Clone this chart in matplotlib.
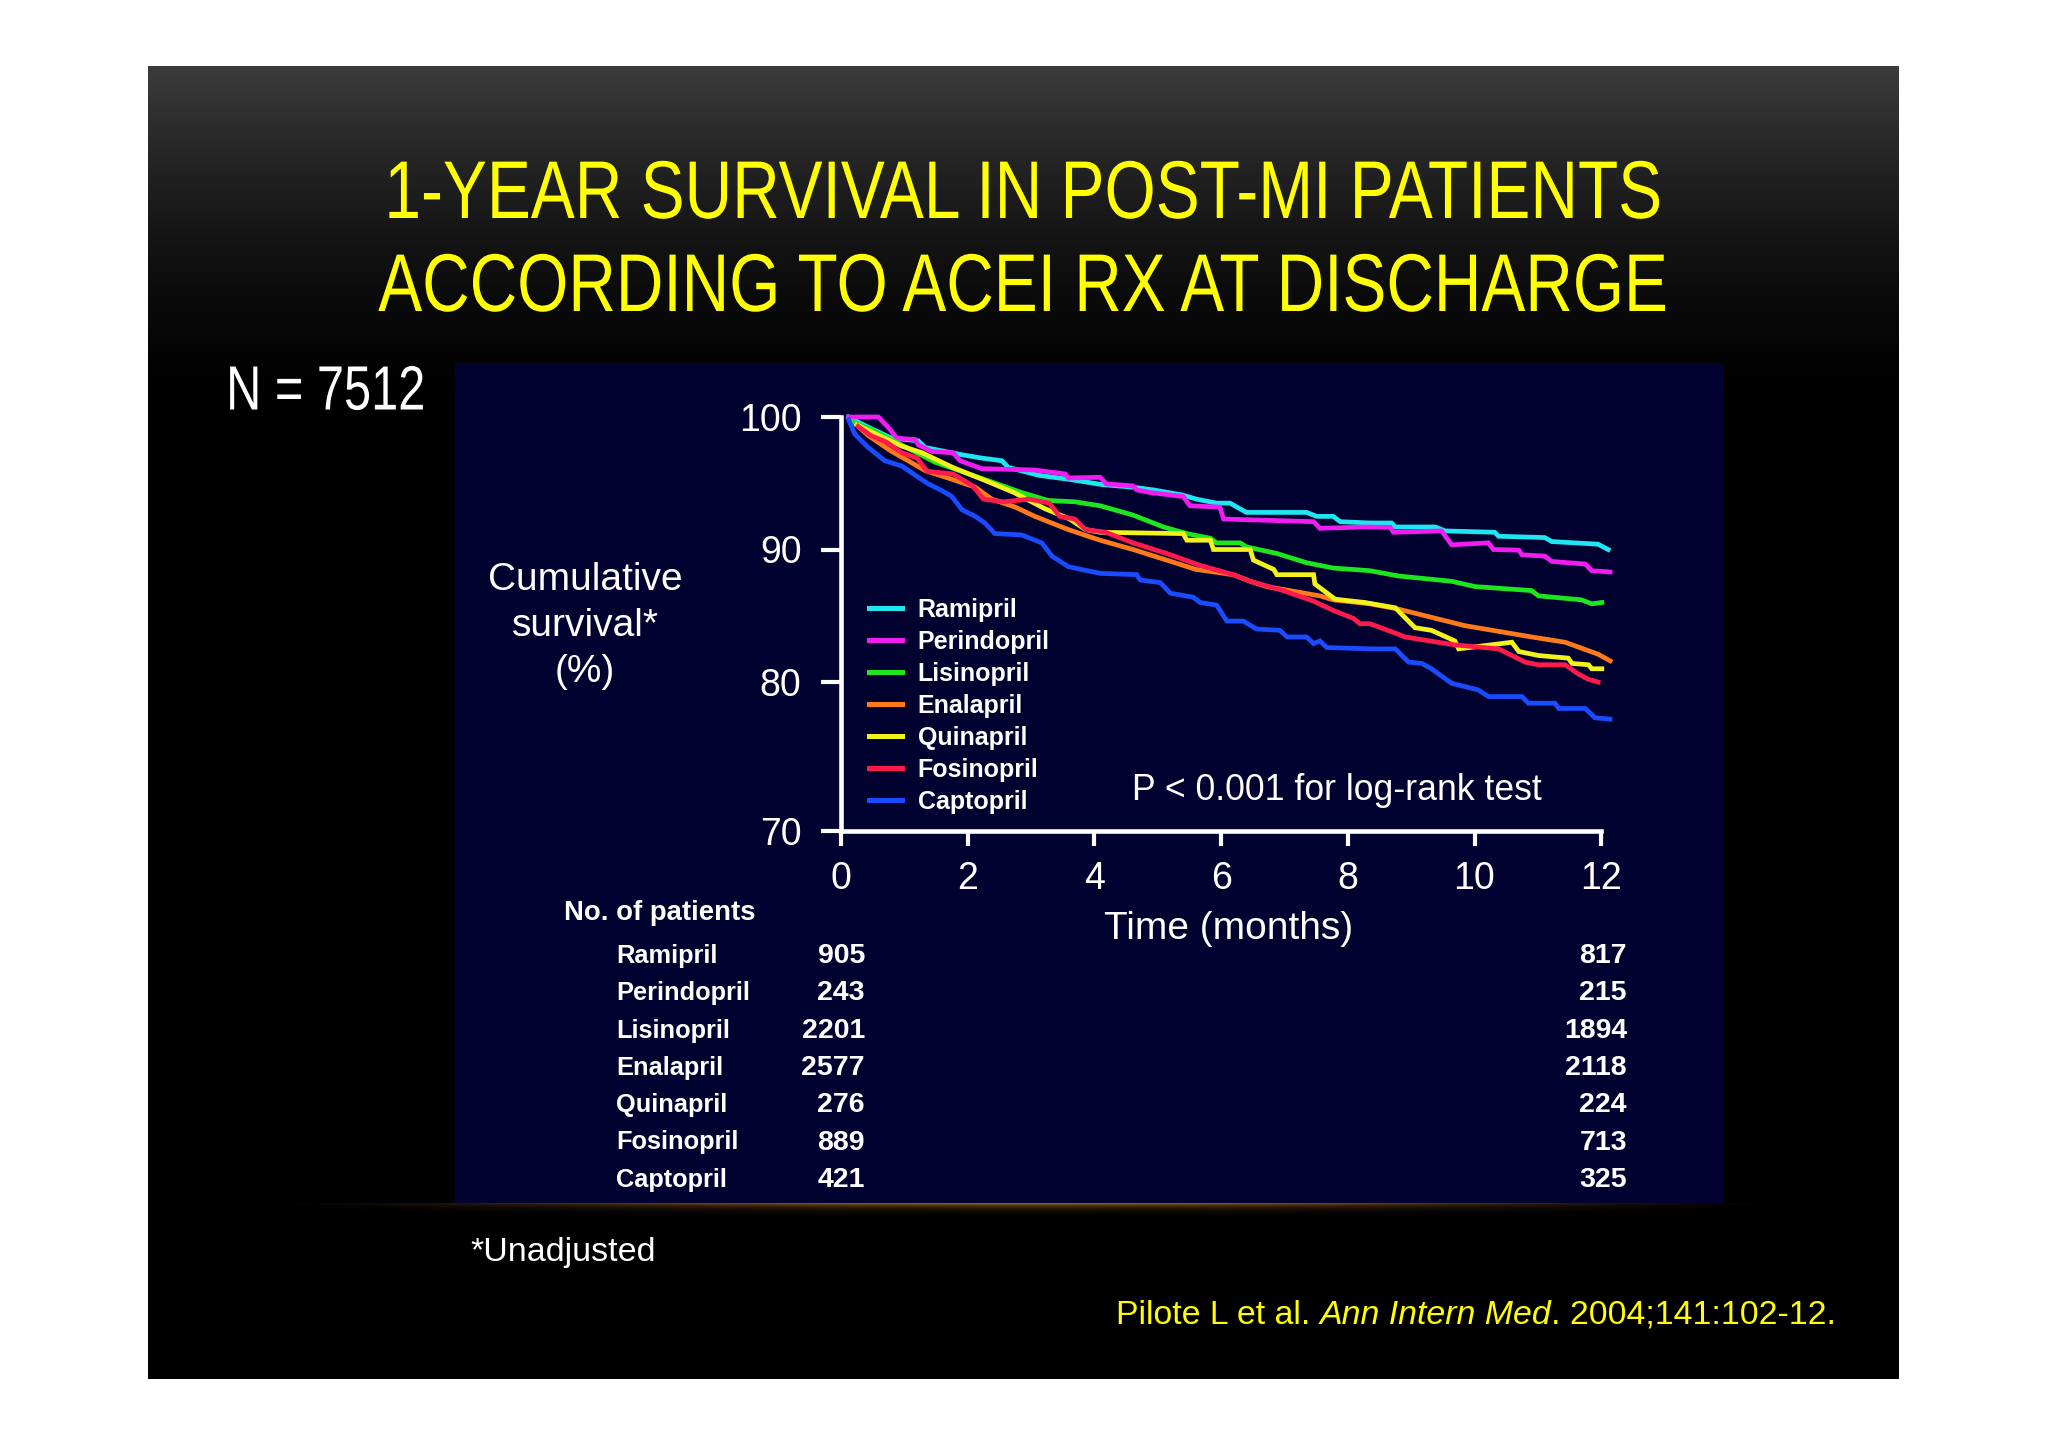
import numpy as np
import matplotlib
matplotlib.use("Agg")
import matplotlib.pyplot as plt
from matplotlib import font_manager, patheffects
from matplotlib.patches import Rectangle
from matplotlib.transforms import Affine2D

# ---------------- data ----------------
DRUGS = ["Ramipril", "Perindopril", "Lisinopril", "Enalapril", "Quinapril", "Fosinopril", "Captopril"]
N_START = [905, 243, 2201, 2577, 276, 889, 421]
N_END = [817, 215, 1894, 2118, 224, 713, 325]
X_TICKS = [0, 2, 4, 6, 8, 10, 12]
Y_TICK_LABELS = ["70", "80", "90", "100"]

T_RAMIPRIL = [0.12, 0.4, 0.80, 1.22, 1.33, 1.85, 2.22, 2.54, 2.64, 3.12, 3.59, 4.12, 4.61, 4.93, 5.40, 5.61, 5.93,
              6.14, 6.40, 7.35, 7.51, 7.77, 7.88, 8.35, 8.69, 8.75, 9.38, 9.54, 10.32, 10.38, 11.11, 11.22, 11.95, 12.11]
S_RAMIPRIL = [100.0, 99.3, 98.4, 98.2, 97.7, 97.2, 96.9, 96.7, 96.2, 95.6, 95.3, 94.9, 94.7, 94.5, 94.1, 93.8, 93.5,
              93.5, 92.8, 92.8, 92.5, 92.5, 92.1, 92.0, 92.0, 91.7, 91.7, 91.4, 91.3, 91.0, 90.9, 90.6, 90.4, 90.0]

T_PERINDOPRIL = [0.12, 0.59, 0.75, 0.88, 1.17, 1.22, 1.43, 1.77, 1.88, 2.22, 3.06, 3.54, 3.59, 4.09, 4.19, 4.61, 4.67,
                 4.88, 5.40, 5.51, 5.98, 6.04, 7.46, 7.56, 8.27, 8.67, 8.72, 9.48, 9.64, 10.22, 10.30, 10.70, 10.75,
                 11.11, 11.22, 11.75, 11.85, 12.14]
S_PERINDOPRIL = [100.0, 100.0, 99.2, 98.4, 98.3, 97.9, 97.4, 97.3, 96.7, 96.1, 96.0, 95.7, 95.4, 95.45, 94.95, 94.8,
                 94.5, 94.3, 94.0, 93.3, 93.2, 92.3, 92.1, 91.6, 91.7, 91.67, 91.3, 91.4, 90.35, 90.5, 90.0, 89.95,
                 89.6, 89.5, 89.1, 88.9, 88.4, 88.3]

T_LISINOPRIL = [0.15, 0.5, 0.83, 1.48, 2.17, 2.85, 3.27, 3.69, 4.09, 4.61, 5.09, 5.46, 5.83, 5.93, 6.30, 6.40, 6.88,
                7.35, 7.77, 8.35, 8.80, 9.64, 10.01, 10.90, 11.01, 11.69, 11.85, 12.01]
S_LISINOPRIL = [99.7, 99.0, 98.2, 96.6, 95.45, 94.3, 93.7, 93.6, 93.3, 92.6, 91.7, 91.2, 90.85, 90.5, 90.5, 90.2, 89.7,
                89.0, 88.6, 88.4, 88.0, 87.6, 87.2, 86.9, 86.5, 86.2, 85.9, 86.0]

T_ENALAPRIL = [0.27, 0.43, 0.80, 1.06, 1.33, 1.75, 2.12, 2.38, 2.75, 3.06, 3.59, 4.09, 4.61, 5.14, 5.60, 6.19, 6.46,
               6.72, 7.56, 7.77, 8.35, 8.80, 9.85, 10.90, 11.43, 11.95, 12.14]
S_ENALAPRIL = [99.3, 98.6, 97.4, 96.7, 95.95, 95.3, 94.7, 93.8, 93.2, 92.5, 91.5, 90.7, 90.0, 89.2, 88.5, 88.1, 87.6,
               87.2, 86.5, 86.2, 85.9, 85.5, 84.25, 83.4, 83.0, 82.1, 81.6]

T_QUINAPRIL = [0.25, 0.6, 0.96, 1.28, 1.76, 2.33, 2.73, 3.21, 3.61, 3.86, 4.09, 5.40, 5.46, 5.83, 5.88, 6.46, 6.51,
               6.83, 6.88, 7.46, 7.48, 7.80, 8.27, 8.75, 9.06, 9.32, 9.69, 9.75, 10.59, 10.70, 11.01, 11.48, 11.54,
               11.80, 11.85, 12.01]
S_QUINAPRIL = [99.4, 98.6, 97.8, 97.3, 96.2, 95.1, 94.3, 93.1, 92.3, 91.5, 91.3, 91.2, 90.7, 90.7, 90.0, 90.0, 89.2,
               88.5, 88.1, 88.1, 87.4, 86.25, 86.0, 85.6, 84.1, 83.9, 83.1, 82.5, 83.0, 82.3, 82.0, 81.8, 81.4,
               81.3, 81.0, 81.0]

T_FOSINOPRIL = [0.27, 0.47, 0.72, 0.96, 1.20, 1.36, 1.77, 2.08, 2.25, 2.57, 2.97, 3.29, 3.45, 3.69, 3.86, 4.18, 4.61,
                5.14, 5.67, 6.19, 6.46, 6.98, 7.46, 7.77, 8.09, 8.19, 8.35, 8.80, 8.90, 9.69, 10.38, 10.80, 11.01,
                11.43, 11.64, 11.80, 11.95]
S_FOSINOPRIL = [99.3, 98.6, 98.1, 97.3, 96.9, 95.9, 95.7, 94.8, 93.8, 93.6, 93.8, 93.5, 92.5, 92.3, 91.5, 91.3, 90.5,
                89.7, 88.8, 88.1, 87.6, 86.9, 86.1, 85.4, 84.8, 84.4, 84.4, 83.6, 83.4, 82.8, 82.5, 81.5, 81.3,
                81.3, 80.6, 80.2, 80.0]

T_CAPTOPRIL = [0.12, 0.22, 0.43, 0.69, 0.96, 1.22, 1.38, 1.59, 1.75, 1.91, 2.12, 2.27, 2.43, 2.85, 3.17, 3.33, 3.59,
               4.09, 4.67, 4.72, 5.04, 5.20, 5.56, 5.67, 5.93, 6.09, 6.35, 6.56, 6.93, 7.04, 7.35, 7.46, 7.56, 7.67,
               8.35, 8.75, 8.96, 9.17, 9.32, 9.64, 10.06, 10.22, 10.75, 10.85, 11.27, 11.33, 11.75, 11.90, 12.14]
S_CAPTOPRIL = [99.8, 98.7, 97.7, 96.7, 96.3, 95.45, 94.95, 94.45, 94.0, 93.0, 92.5, 92.0, 91.2, 91.1, 90.5, 89.5, 88.7,
               88.2, 88.1, 87.7, 87.5, 86.7, 86.4, 86.0, 85.8, 84.6, 84.6, 84.0, 83.9, 83.4, 83.4, 82.9, 83.1, 82.6,
               82.5, 82.5, 81.5, 81.4, 81.0, 79.9, 79.4, 78.9, 78.9, 78.4, 78.4, 78.0, 78.0, 77.3, 77.2]

SERIES_T = [T_RAMIPRIL, T_PERINDOPRIL, T_LISINOPRIL, T_ENALAPRIL, T_QUINAPRIL, T_FOSINOPRIL, T_CAPTOPRIL]
SERIES_S = [S_RAMIPRIL, S_PERINDOPRIL, S_LISINOPRIL, S_ENALAPRIL, S_QUINAPRIL, S_FOSINOPRIL, S_CAPTOPRIL]
COLORS = ["#1fe6f0", "#f01cf0", "#1ee61e", "#ff7a1a", "#f2f21c", "#ff1a4c", "#1a4cff"]

# ---------------- fonts ----------------
names = {f.name for f in font_manager.fontManager.ttflist}
SANS = "Liberation Sans" if "Liberation Sans" in names else "DejaVu Sans"


class Condense(patheffects.AbstractPathEffect):
    """Draw the text glyphs horizontally compressed (narrow face look)."""

    def __init__(self, sx=0.8, anchor="center"):
        super().__init__()
        self.sx = sx
        self.anchor = anchor

    def draw_path(self, renderer, gc, tpath, affine, rgbFace=None):
        ext = tpath.get_extents(affine)
        if self.anchor == "left":
            cx = ext.x0
        elif self.anchor == "right":
            cx = ext.x1
        else:
            cx = 0.5 * (ext.x0 + ext.x1)
        new = affine + Affine2D().translate(-cx, 0).scale(self.sx, 1.0).translate(cx, 0)
        renderer.draw_path(gc, tpath, new, rgbFace)


W, H = 2048, 1447
fig = plt.figure(figsize=(W / 100, H / 100), dpi=100, facecolor="white")


def T(x, y, s, **kw):
    return fig.text(x / W, 1 - y / H, s, **kw)


# background (pixel coordinates)
bg = fig.add_axes([0, 0, 1, 1])
bg.set_xlim(0, W)
bg.set_ylim(H, 0)
bg.axis("off")
grad = np.linspace(0, 1, 400)
shade = 0.235 * np.clip(1 - grad, 0, 1) ** 1.6
img = np.repeat(shade[:, None], 2, axis=1)
img = np.dstack([img, img, img])
bg.imshow(img, extent=[148, 1899, 420, 66], aspect="auto", interpolation="bilinear", zorder=1)
bg.add_patch(Rectangle((148, 419), 1899 - 148, 1379 - 419, facecolor="black", edgecolor="none", zorder=1))
# chart panel
bg.add_patch(Rectangle((455, 363), 1724 - 455, 1203 - 363, facecolor="#020230", edgecolor="none", zorder=2))
# glow under panel
xs = np.linspace(0, 1, 600)
alpha_x = np.sin(np.pi * xs) ** 1.5
ys = np.linspace(0, 1, 12)
alpha_y = np.exp(-ys * 3)
glow = np.zeros((12, 600, 4))
glow[..., 0] = 0.62
glow[..., 1] = 0.40
glow[..., 2] = 0.14
glow[..., 3] = alpha_y[:, None] * alpha_x[None, :] * 0.9
bg.imshow(glow, extent=[250, 1800, 1215, 1203], aspect="auto", interpolation="bilinear", zorder=2)

# ---------------- plot axes ----------------
X0, X_PER = 841, 63.35
Y_PER = 13.25
Y100 = 417
XMAX, YMAX = 12.3, 100.6
Y_BOT = 831
YMIN = 100 - (Y_BOT - Y100) / Y_PER
Y_TOP = Y100 - (YMAX - 100) * Y_PER
ax = fig.add_axes([X0 / W, (H - Y_BOT) / H, XMAX * X_PER / W, (Y_BOT - Y_TOP) / H])
ax.set_facecolor("none")
ax.set_xlim(0, XMAX)
ax.set_ylim(YMIN, YMAX)

lines = []
for t, s, c, name in zip(SERIES_T, SERIES_S, COLORS, DRUGS):
    ln, = ax.plot(t, s, color=c, lw=3.4, solid_joinstyle="miter", label=name, clip_on=False)
    lines.append(ln)

for sp in ["top", "right"]:
    ax.spines[sp].set_visible(False)
for sp in ["left", "bottom"]:
    ax.spines[sp].set_color("white")
    ax.spines[sp].set_linewidth(3.3)
ax.spines["left"].set_bounds(YMIN, 100)
ax.spines["bottom"].set_bounds(0, 12)

ax.set_xticks(X_TICKS)
ax.set_xticklabels([str(v) for v in X_TICKS])
ax.set_yticks([YMIN, 80, 90, 100])
ax.set_yticklabels(Y_TICK_LABELS)
ax.tick_params(axis="x", direction="out", length=11, width=3.0, color="white", pad=10.5,
               labelsize=27, labelcolor="white")
ax.tick_params(axis="y", direction="out", length=14.5, width=3.0, color="white", pad=14,
               labelsize=27, labelcolor="white")
for lab in ax.get_xticklabels() + ax.get_yticklabels():
    lab.set_family(SANS)

leg = ax.legend(handles=lines, loc="upper left", bbox_to_anchor=(869 / W, 1 - 598 / H),
                bbox_transform=fig.transFigure, frameon=False, handlelength=1.3, handletextpad=0.65,
                labelspacing=0.32, borderpad=0, borderaxespad=0,
                prop=dict(family=SANS, weight="bold", size=18))
for txt in leg.get_texts():
    txt.set_color("white")
for h in leg.legend_handles:
    h.set_linewidth(3.6)

T(1132, 790, "P < 0.001 for log-rank test", color="white", fontsize=25.7, family=SANS,
  ha="left", va="center")
T(1229, 929, "Time (months)", color="white", fontsize=28, family=SANS, ha="center", va="center")
T(585, 626, "Cumulative\nsurvival*\n(%)", color="white", fontsize=28, family=SANS,
  ha="center", va="center", linespacing=1.36)

# number at risk table
T(564, 913, "No. of patients", color="white", fontsize=19.8, weight="bold", family=SANS, ha="left", va="center")
ROW_Y0, ROW_DY = 956, 37.3
for i, (name, n0, n1) in enumerate(zip(DRUGS, N_START, N_END)):
    y = ROW_Y0 + i * ROW_DY
    T(616, y, name, color="white", fontsize=18.3, weight="bold", family=SANS, ha="left", va="center")
    T(865, y, str(n0), color="white", fontsize=20.5, weight="bold", family=SANS, ha="right", va="center")
    T(1627, y, str(n1), color="white", fontsize=20.5, weight="bold", family=SANS, ha="right", va="center")

# slide texts (narrow face)
T(1024, 197, "1-YEAR SURVIVAL IN POST-MI PATIENTS", color="#ffff00", fontsize=59, family=SANS,
  ha="center", va="center", path_effects=[Condense(0.804, "center")])
T(1024, 290, "ACCORDING TO ACEI RX AT DISCHARGE", color="#ffff00", fontsize=59, family=SANS,
  ha="center", va="center", path_effects=[Condense(0.803, "center")])
T(225, 393, "N = 7512", color="white", fontsize=45, family=SANS, ha="left", va="center",
  path_effects=[Condense(0.78, "left")])
T(470, 1253, "*Unadjusted", color="white", fontsize=24.5, family=SANS, ha="left", va="center")

parts = [("Pilote L et al. ", "normal"), ("Ann Intern Med", "italic"), (". 2004;141:102-12.", "normal")]
fig.canvas.draw()
renderer = fig.canvas.get_renderer()
widths = []
tmp = []
for s, st in parts:
    t = T(0, 0, s, color="#ffff00", fontsize=24.4, family=SANS, style=st, ha="left", va="center")
    widths.append(t.get_window_extent(renderer).width)
    tmp.append(t)
x = 1836 - sum(widths)
for t, w in zip(tmp, widths):
    t.set_position((x / W, 1 - 1315 / H))
    x += w

fig.savefig("out.png", dpi=100, facecolor="white")
